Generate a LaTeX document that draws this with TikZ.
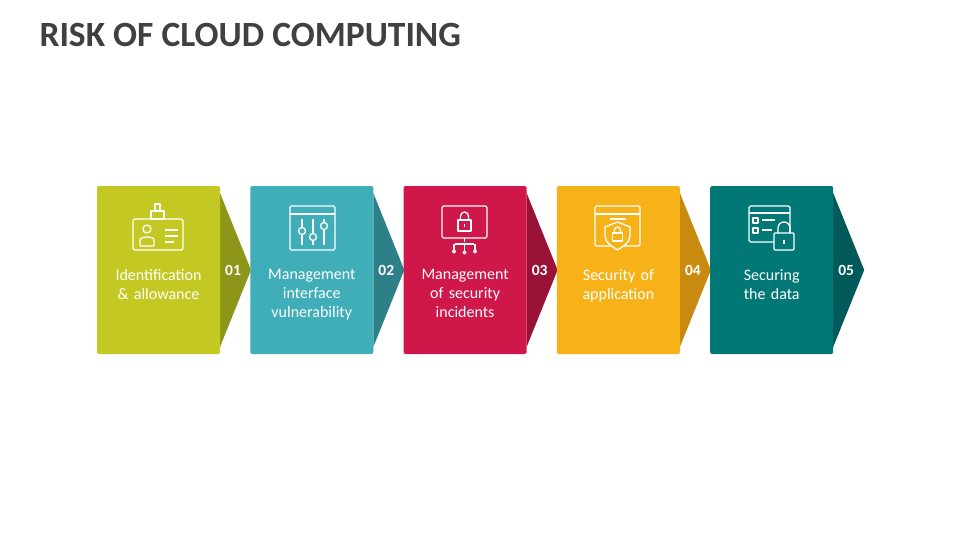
\documentclass[tikz,border=0pt]{standalone}
\usepackage{fontspec}
\setmainfont{Carlito}
\begin{document}
\begin{tikzpicture}[x=1pt,y=-1pt,
  box/.style={rounded corners=2pt,inner sep=0},
  lbl/.style={text=white,font=\fontsize{16}{19}\selectfont,align=center,text width=118pt},
  num/.style={text=white,font=\bfseries\fontsize{15.5}{18}\selectfont},
  ic/.style={draw=white,line width=1.3pt,line join=round}]
\useasboundingbox (0,0) rectangle (960,540);
\fill[white] (0,0) rectangle (960,540);
\node[anchor=west,text=black!75,font=\bfseries\fontsize{35.5}{40}\selectfont] (title) at (36,35) {RISK OF CLOUD COMPUTING};
\definecolor{c1}{HTML}{C3C922}\definecolor{d1}{HTML}{8E9619}
\definecolor{c2}{HTML}{40AEB8}\definecolor{d2}{HTML}{2E8088}
\definecolor{c3}{HTML}{D0174A}\definecolor{d3}{HTML}{9A1238}
\definecolor{c4}{HTML}{F7B21A}\definecolor{d4}{HTML}{C98A10}
\definecolor{c5}{HTML}{027876}\definecolor{d5}{HTML}{015A5A}
\foreach \i/\t/\n in {0/{Identification\\\& allowance}/01,1/{Management\\interface\\vulnerability}/02,2/{Management\\of security\\incidents}/03,3/{Security of\\application}/04,4/{Securing\\the data}/05}{
  \pgfmathtruncatemacro\k{\i+1}
  \begin{scope}[xshift=\i*153.3]
  \fill[d\k] (220,193) -- (251,270) -- (220,347) -- cycle;
  \fill[c\k,rounded corners=2pt] (97,186) rectangle (220,354);
  \node[lbl,anchor=north] (t\k) at (158.5,266) {\t};
  \node[num] (n\k) at (233,270) {\n};
  \end{scope}
}
% icon 1: ID card
\draw[ic,rounded corners=1.5pt] (133,219) rectangle (183,250);
\draw[ic,fill=c1] (151,211) rectangle (164,219);
\draw[ic] (155,211) -- (155,204) -- (160,204) -- (160,211);
\draw[ic] (147,229) circle (4);
\draw[ic] (140,246) -- (140,240) .. controls (140,236) and (154,236) .. (154,240) -- (154,246) -- cycle;
\draw[ic] (165,230) -- (178,230) (165,236) -- (178,236) (165,242) -- (174,242);
% icon 2: sliders window
\draw[ic,rounded corners=1.5pt] (290,206) rectangle (335,250);
\draw[ic] (290,214) -- (335,214);
\foreach \x/\y in {302/231,313/237,324/226}{
  \draw[ic] (\x,219) -- (\x,\y-3.5) (\x,\y+3.5) -- (\x,245);
  \draw[ic] (\x,\y) circle (3.5);}
% icon 3: monitor with lock
\draw[ic,rounded corners=1.5pt] (442,206) rectangle (487,238);
\draw[ic] (464.5,238) -- (464.5,242) (455,244) -- (474,244);
\draw[ic] (458,220) rectangle (471,231);
\draw[ic] (460.5,220) -- (460.5,216) arc (180:360:4) -- (468.5,220);
\draw[ic] (464.5,224) -- (464.5,227);
\draw[ic] (454,244) -- (454,250) (464.5,244) -- (464.5,251) (475,244) -- (475,250);
\draw[ic] (454,251.5) circle (1.5) (464.5,252.5) circle (1.5) (475,251.5) circle (1.5);
% icon 4: window with shield
\draw[ic,rounded corners=1.5pt] (595,206) rectangle (640,246);
\draw[ic] (595,214) -- (640,214) (610,219)--(626,219);
\draw[ic,fill=c4] (617.5,222) -- (630,227) -- (630,236) .. controls (630,243) and (622,247) .. (617.5,250) .. controls (613,247) and (605,243) .. (605,236) -- (605,227) -- cycle;
\draw[ic] (612.5,233) rectangle (622.5,241);
\draw[ic] (614.5,233) -- (614.5,230) arc (180:360:3) -- (620.5,233);
% icon 5: window with checklist and lock
\draw[ic,rounded corners=1.5pt] (749,206) rectangle (790,242);
\draw[ic] (749,213) -- (790,213);
\draw[ic] (753,218) rectangle (758,223) (753,228) rectangle (758,233);
\draw[ic] (762,220) -- (775,220) (762,230) -- (772,230);
\draw[ic,fill=c5,rounded corners=1pt] (774,233) rectangle (794,250);
\draw[ic] (778,233) -- (778,228) arc (180:360:6) -- (790,233);
\draw[ic] (784,240) -- (784,244);
\end{tikzpicture}
\end{document}
